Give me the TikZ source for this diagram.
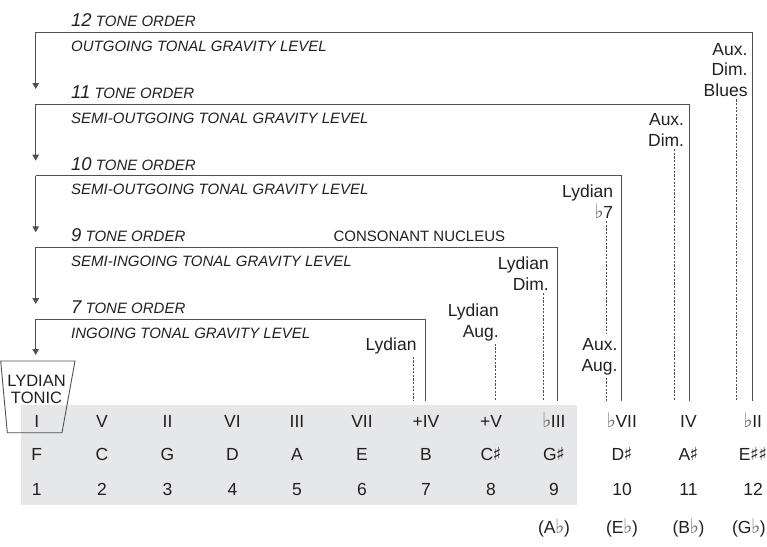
\documentclass[tikz,border=0pt]{standalone}
\usepackage{fontspec}
\setmainfont{Liberation Sans}
\newfontfamily\symfont{DejaVu Sans}
\usetikzlibrary{arrows.meta}

\definecolor{inkline}{HTML}{505050}
\definecolor{inktext}{HTML}{231F20}
\definecolor{inkflat}{HTML}{6A6A6A}
\definecolor{bandgray}{HTML}{E6E7E8}
\newcommand{\mflat}{{\color{inkflat}\symfont\fontsize{20}{17}\selectfont\kern-0.5pt♭\kern-0.5pt}}
\newcommand{\msharp}{{\symfont\fontsize{18}{15}\selectfont\kern-0.5pt♯}}

\begin{document}
\begin{tikzpicture}[x=1pt, y=-1pt,
  lvl/.style={inkline, line width=0.9pt},
  arr/.style={lvl, -{Triangle[length=6pt,width=6.5pt]}},
  dsh/.style={inkline, line width=0.7pt, dash pattern=on 2.2pt off 1.4pt},
  order/.style={anchor=base west, inner sep=0, text=inktext,
    font=\fontsize{15}{18}\selectfont\itshape},
  tag/.style={anchor=base east, inner sep=0, align=right, text=inktext,
    font=\fontsize{17.5}{20.5}\selectfont},
  cell/.style={anchor=base, inner sep=0, text=inktext,
    font=\fontsize{17.5}{20}\selectfont}]

\useasboundingbox (0,0) rectangle (767,546);

% BAND
  \fill[bandgray] (21,405) rectangle (576.7,505);
  \coordinate (tabtop) at (0,401);

% LEVELS
  \foreach \n/\y/\xr/\lev in {12/32.3/752.7/OUTGOING, 11/104/689.3/SEMI-OUTGOING,
      10/175.7/621.7/SEMI-OUTGOING, 9/247.3/557.3/SEMI-INGOING, 7/319/425.7/INGOING}{
    \coordinate (L\n) at (35.7,\y);
    \draw[lvl] (L\n) -| (\xr,401);
    \node[order] (o\n) at (71,\y-5.5) {{\fontsize{18.5}{18}\selectfont\n} TONE ORDER};
    \node[order] (g\n) at (71,\y+19) {\lev{} TONAL GRAVITY LEVEL};
  }
  \node[order, font=\fontsize{15}{18}\selectfont] (nucleus) at (333.3,241.7) {CONSONANT NUCLEUS};

% ARROWS
  \draw[arr] (L12) -- ([yshift=15pt]L11);
  \draw[arr] (L11) -- ([yshift=15pt]L10);
  \draw[arr] (L10) -- ([yshift=15pt]L9);
  \draw[arr] (L9)  -- ([yshift=15pt]L7);

% LYDIAN TONIC
  \draw[lvl] (0.7,361) -- (75,361) -- (62,432.7) -- (7.3,432.7) -- cycle;
  \coordinate (tonictop) at (36,361);
  \node[anchor=base, inner sep=0, align=center, text=inktext,
    font=\fontsize{16.5}{16.8}\selectfont] (tonic) at (36.5,403.3) {LYDIAN\\TONIC};
  \draw[arr] (L7) -- ([yshift=6pt]L7 |- tonictop);

% LABELS (anchored at the last line)
  \node[tag] (lydIV)  at (416.7,350) {Lydian};
  \node[tag] (lydAug) at (499,337)   {Lydian\\Aug.};
  \node[tag] (lydDim) at (549,290)   {Lydian\\Dim.};
  \node[tag] (lydSev) at (613.3,218) {Lydian\\\mflat7};
  \node[tag] (auxAug) at (617.7,371) {Aux.\\Aug.};
  \node[tag] (auxDim) at (684.3,146) {Aux.\\Dim.};
  \node[tag] (blues)  at (747.7,96)  {Aux.\\Dim.\\Blues};

% dashed leads
  \draw[dsh] ([xshift=-3.7pt,yshift=-3pt]lydIV.south east)  -- ([xshift=-3.7pt]lydIV.south east |- tabtop);
  \draw[dsh] ([xshift=-3.7pt,yshift=-3pt]lydAug.south east) -- ([xshift=-3.7pt]lydAug.south east |- tabtop);
  \draw[dsh] ([xshift=-5.3pt,yshift=-3pt]lydDim.south east) -- ([xshift=-5.3pt]lydDim.south east |- tabtop);
  \draw[dsh] ([xshift=-6.6pt,yshift=-3pt]lydSev.south east) -- ([xshift=-6.6pt,yshift=5pt]lydSev.south east |- auxAug.north);
  \draw[dsh] ([xshift=-11pt,yshift=-3pt]auxAug.south east)  -- ([xshift=-11pt]auxAug.south east |- tabtop);
  \draw[dsh] ([xshift=-10.3pt,yshift=-3pt]auxDim.south east) -- ([xshift=-10.3pt]auxDim.south east |- tabtop);
  \draw[dsh] ([xshift=-11pt,yshift=-3pt]blues.south east)   -- ([xshift=-11pt]blues.south east |- tabtop);

% TABLE
  \foreach \i/\x/\rn/\nt in {1/36.7/I/F, 2/102/V/C, 3/167.5/II/G, 4/232.5/VI/D,
      5/297/III/A, 6/362/VII/E, 7/426/+IV/B, 8/491/+V/C\msharp,
      9/554/\mflat III/G\msharp, 10/622/\mflat VII/D\msharp,
      11/688.5/IV/A\msharp, 12/753/\mflat II/E\msharp\msharp}{
    \node[cell] (r\i) at (\x,427.3) {\rn};
    \node[cell] (n\i) at (\x,460)   {\nt};
    \node[cell] (d\i) at (\x,495)   {\i};
  }
  \foreach \i/\nt in {9/A, 10/E, 11/B}
    \node[cell] (e\i) at (d\i |- 0,533) {(\nt\mflat)};
  \node[cell, anchor=base east] (e12) at (766,533) {(G\mflat)};

\end{tikzpicture}
\end{document}
